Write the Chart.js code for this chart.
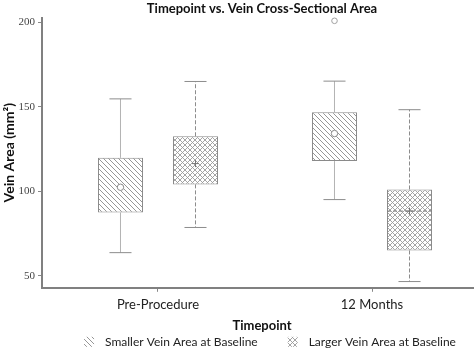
<!DOCTYPE html>
<html><head><meta charset="utf-8">
<script src="https://cdn.jsdelivr.net/npm/chart.js@4.4.1/dist/chart.umd.min.js"></script>
<style>
html,body{margin:0;padding:0;background:#fff;overflow:hidden;width:474px;height:356px}
#wrap{position:relative;width:482px;height:356px}
</style></head>
<body><div id="wrap"><canvas id="c"></canvas></div>
<script>
// ---- data ----
const categories = ['Pre-Procedure', '12 Months'];
const seriesNames = ['Smaller Vein Area at Baseline', 'Larger Vein Area at Baseline'];
const yTicks = [50, 100, 150, 200];

const smallerMin = [63.8, 95.2];
const smallerQ1 = [87.6, 118.0];
const smallerMedian = [null, null];
const smallerQ3 = [119.9, 146.9];
const smallerMax = [154.8, 165.3];
const smallerMean = [102.5, 134.3];
const smallerOutliers = [[], [201]];

const largerMin = [78.7, 46.7];
const largerQ1 = [104.2, 65.1];
const largerMedian = [null, 88.4];
const largerQ3 = [132.7, 101.2];
const largerMax = [165.1, 148.4];
const largerMean = [116.5, 88.4];
const largerOutliers = [[], []];

// ---- patterns ----
function makePattern(kind) {
  const s = 5;
  const c = document.createElement('canvas');
  c.width = s; c.height = s;
  const g = c.getContext('2d');
  g.fillStyle = '#ffffff'; g.fillRect(0, 0, s, s);
  g.strokeStyle = kind === 'diag' ? '#8a8a8a' : '#9a9a9a';
  g.lineWidth = 0.9;
  g.beginPath();
  for (const k of [-s, 0, s]) {
    g.moveTo(k, 0); g.lineTo(k + s, s);
    if (kind === 'cross') { g.moveTo(k + s, 0); g.lineTo(k, s); }
  }
  g.stroke();
  const ctx = document.getElementById('c').getContext('2d');
  return ctx.createPattern(c, 'repeat');
}
const patterns = [makePattern('diag'), makePattern('cross')];

const stats = [
  {min: smallerMin, q1: smallerQ1, med: smallerMedian, q3: smallerQ3, max: smallerMax, mean: smallerMean, out: smallerOutliers,
   whisker: '#b4b4b4', dash: [], meanStyle: 'circle'},
  {min: largerMin, q1: largerQ1, med: largerMedian, q3: largerQ3, max: largerMax, mean: largerMean, out: largerOutliers,
   whisker: '#8c8c8c', dash: [4, 2], meanStyle: 'plus'}
];

const boxPlugin = {
  id: 'boxParts',
  afterDatasetsDraw(chart) {
    const ctx = chart.ctx, y = chart.scales.y;
    stats.forEach((st, di) => {
      const meta = chart.getDatasetMeta(di);
      meta.data.forEach((bar, j) => {
        const x = bar.x, hw = bar.width / 2, cap = bar.width * 0.245;
        const pMin = y.getPixelForValue(st.min[j]), pMax = y.getPixelForValue(st.max[j]);
        const pQ1 = y.getPixelForValue(st.q1[j]), pQ3 = y.getPixelForValue(st.q3[j]);
        ctx.save();
        ctx.strokeStyle = st.whisker; ctx.lineWidth = 1;
        ctx.setLineDash(st.dash);
        ctx.beginPath();
        ctx.moveTo(x, pQ3); ctx.lineTo(x, pMax);
        ctx.moveTo(x, pQ1); ctx.lineTo(x, pMin);
        ctx.stroke();
        ctx.setLineDash([]);
        ctx.strokeStyle = '#8c8c8c';
        ctx.beginPath();
        ctx.moveTo(x - cap, pMax); ctx.lineTo(x + cap, pMax);
        ctx.moveTo(x - cap, pMin); ctx.lineTo(x + cap, pMin);
        ctx.stroke();
        if (st.med[j] !== null) {
          const pm = y.getPixelForValue(st.med[j]);
          ctx.setLineDash([4, 2]);
          ctx.strokeStyle = '#808080';
          ctx.beginPath(); ctx.moveTo(x - hw, pm); ctx.lineTo(x + hw, pm); ctx.stroke();
          ctx.setLineDash([]);
        }
        const pMean = y.getPixelForValue(st.mean[j]);
        ctx.strokeStyle = '#8a8a8a';
        ctx.fillStyle = '#ffffff';
        if (st.meanStyle === 'circle') {
          ctx.beginPath(); ctx.arc(x, pMean, 3.2, 0, Math.PI * 2); ctx.fill(); ctx.stroke();
        } else {
          ctx.strokeStyle = '#777';
          ctx.beginPath();
          ctx.moveTo(x - 3.5, pMean); ctx.lineTo(x + 3.5, pMean);
          ctx.moveTo(x, pMean - 3.5); ctx.lineTo(x, pMean + 3.5);
          ctx.stroke();
        }
        ctx.strokeStyle = '#a0a0a0';
        st.out[j].forEach(v => {
          const po = y.getPixelForValue(v);
          ctx.beginPath(); ctx.arc(x, po, 2.8, 0, Math.PI * 2); ctx.stroke();
        });
        ctx.restore();
      });
    });
  }
};

const legendPlugin = {
  id: 'patternLegend',
  afterDraw(chart) {
    const ctx = chart.ctx, a = chart.chartArea;
    ctx.save();
    ctx.font = '12px Lato';
    ctx.textBaseline = 'middle';
    const box = 10, gapText = 11, gapItem = 30;
    const widths = seriesNames.map(n => ctx.measureText(n).width);
    const total = widths.reduce((s, w) => s + box + gapText + w, 0) + gapItem * (seriesNames.length - 1);
    let x = (a.left + a.right) / 2 + 8 - total / 2;
    const yc = a.bottom + 54;
    seriesNames.forEach((n, i) => {
      ctx.fillStyle = patterns[i];
      ctx.fillRect(x, yc - box / 2, box, box);
      ctx.fillStyle = '#222';
      ctx.fillText(n, x + box + gapText, yc + 0.5);
      x += box + gapText + widths[i] + gapItem;
    });
    ctx.restore();
  }
};

const datasets = stats.map((st, di) => ({
  label: seriesNames[di],
  data: categories.map((c, i) => ({x: i, y: [st.q1[i], st.q3[i]]})),
  backgroundColor: patterns[di],
  borderColor: '#8a8a8a',
  borderWidth: 1,
  borderSkipped: false,
  categoryPercentage: 0.701,
  barPercentage: 0.6
}));

new Chart(document.getElementById('c'), {
  type: 'bar',
  data: {datasets},
  plugins: [boxPlugin, legendPlugin],
  options: {
    responsive: true,
    maintainAspectRatio: false,
    animation: false,
    events: [],
    layout: {padding: {top: 0, right: 0, left: 0, bottom: 20}},
    plugins: {
      legend: {display: false},
      tooltip: {enabled: false},
      title: {
        display: true,
        text: 'Timepoint vs. Vein Cross-Sectional Area',
        fullSize: false,
        color: '#111',
        font: {family: 'Lato', size: 13, weight: 'bold'},
        padding: {top: 1, bottom: 1}
      }
    },
    scales: {
      x: {
        type: 'linear',
        offset: false,
        min: -0.542,
        max: 1.514,
        afterBuildTicks(scale) { scale.ticks = categories.map((c, i) => ({value: i})); },
        ticks: {
          callback: (v) => categories[v],
          color: '#222',
          font: {family: 'Lato', size: 13},
          padding: 5,
          maxRotation: 0,
          autoSkip: false
        },
        grid: {drawOnChartArea: false, drawTicks: true, tickLength: 4, color: '#888', tickWidth: 1, offset: false},
        border: {display: true, color: '#808080', width: 2},
        title: {display: true, text: 'Timepoint', color: '#111',
                font: {family: 'Lato', size: 13, weight: 'bold'}, padding: {top: 1, bottom: 2}}
      },
      y: {
        min: 43,
        max: 202.9,
        afterBuildTicks(scale) { scale.ticks = yTicks.map(v => ({value: v})); },
        afterFit(scale) { scale.width = 42; },
        ticks: {
          color: '#444',
          font: {family: 'Liberation Serif', size: 11},
          padding: 3
        },
        grid: {drawOnChartArea: false, drawTicks: true, tickLength: 4, color: '#888'},
        border: {display: true, color: '#808080', width: 2},
        title: {display: true, text: 'Vein Area (mm²)', color: '#111',
                font: {family: 'Lato', size: 14, weight: 'bold'}, padding: {top: 1, bottom: 0}}
      }
    }
  }
});
</script>
</body></html>
